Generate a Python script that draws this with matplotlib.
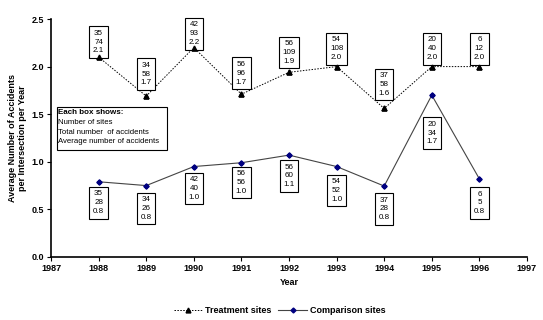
import matplotlib
matplotlib.use("Agg")
import matplotlib.pyplot as plt

plt.rcParams['font.family'] = ['Liberation Sans', 'DejaVu Sans']

years = [1988, 1989, 1990, 1991, 1992, 1993, 1994, 1995, 1996]

# treatment sites
treat_avg = [2.10, 1.69, 2.20, 1.71, 1.94, 2.00, 1.56, 2.00, 2.00]
treat_sites = [35, 34, 42, 56, 56, 54, 37, 20, 6]
treat_acc = [74, 58, 93, 96, 109, 108, 58, 40, 12]
treat_lbl = ["2.1", "1.7", "2.2", "1.7", "1.9", "2.0", "1.6", "2.0", "2.0"]

# comparison sites
comp_avg = [0.79, 0.75, 0.95, 0.99, 1.07, 0.95, 0.745, 1.70, 0.82]
comp_sites = [35, 34, 42, 56, 56, 54, 37, 20, 6]
comp_acc = [28, 26, 40, 56, 60, 52, 28, 34, 5]
comp_lbl = ["0.8", "0.8", "1.0", "1.0", "1.1", "1.0", "0.8", "1.7", "0.8"]

# label box gaps (pixels) between point and box edge
treat_gap = [-1, 6, -2, 5, 4, 2, 8, 2, 2]
comp_gap = [5, 7, 6, 4, 5, 8, 7, 22, 8]

key_lines = ["Each box shows:", "Number of sites", "Total number  of accidents",
             "Average number of accidents"]

fig = plt.figure(figsize=(5.43, 3.2), dpi=100)
ax = fig.add_axes([0.094, 0.197, 0.8765, 0.7436])

ax.plot(years, treat_avg, color='black', ls=(0, (1.5, 1.5)), lw=0.7, zorder=2,
        marker='^', ms=3.5, mfc='black', mec='black', label='Treatment sites')
ax.plot(years, comp_avg, color='#444444', ls='-', lw=0.8, zorder=2,
        marker='D', ms=2.5, mfc='#000080', mec='#000080', label='Comparison sites')
# markers on top of the boxes
ax.plot(years, treat_avg, ls='none', marker='^', ms=3.5, color='black', zorder=5)
ax.plot(years, comp_avg, ls='none', marker='D', ms=2.5, color='#000080', zorder=5)

box = dict(boxstyle='square,pad=0.45', fc='white', ec='black', lw=0.8)
for i, y in enumerate(years):
    txt = "%d\n%d\n%s" % (treat_sites[i], treat_acc[i], treat_lbl[i])
    ax.annotate(txt, (y, treat_avg[i]), xytext=(0, 0.72 * treat_gap[i] + 2.6),
                textcoords='offset points', ha='center', va='bottom', fontsize=5.8,
                linespacing=1.35, bbox=box, zorder=3)
    txt = "%d\n%d\n%s" % (comp_sites[i], comp_acc[i], comp_lbl[i])
    ax.annotate(txt, (y, comp_avg[i]), xytext=(0, -0.72 * comp_gap[i] - 2.6),
                textcoords='offset points', ha='center', va='top', fontsize=5.8,
                linespacing=1.35, bbox=box, zorder=3)

for k, line in enumerate(key_lines):
    ax.text(1987.15, 1.52 - 0.104 * k, line, fontsize=5.8 if k == 0 else 5.6,
            fontweight='bold' if k == 0 else 'normal', va='center')
ax.add_patch(plt.Rectangle((1987.12, 1.12), 2.31, 0.46, fill=False, ec='black', lw=0.8))

ax.set_xlim(1987, 1997)
ax.set_ylim(0, 2.5)
ax.set_xticks(range(1987, 1998))
ax.set_yticks([0.0, 0.5, 1.0, 1.5, 2.0, 2.5])
ax.set_yticklabels(["0.0", "0.5", "1.0", "1.5", "2.0", "2.5"])
for lab in ax.get_xticklabels() + ax.get_yticklabels():
    lab.set_fontweight('bold')
ax.tick_params(labelsize=6.5, length=3, width=0.8, direction='out', pad=2)
ax.spines['top'].set_visible(False)
ax.spines['right'].set_visible(False)
ax.spines['left'].set_linewidth(1.2)
ax.spines['bottom'].set_linewidth(1.2)

ax.set_xlabel("Year", fontsize=6.5, fontweight='bold', labelpad=4)
ax.set_ylabel("Average Number of Accidents\nper Intersection per Year", fontsize=6.5,
              fontweight='bold', labelpad=3)

fig.legend(loc='center', bbox_to_anchor=(0.515, 0.03), ncol=2, frameon=False,
           prop={'weight': 'bold', 'size': 6.5}, handlelength=3.2,
           columnspacing=0.7, handletextpad=0.3)

fig.savefig("out.png", dpi=100)
